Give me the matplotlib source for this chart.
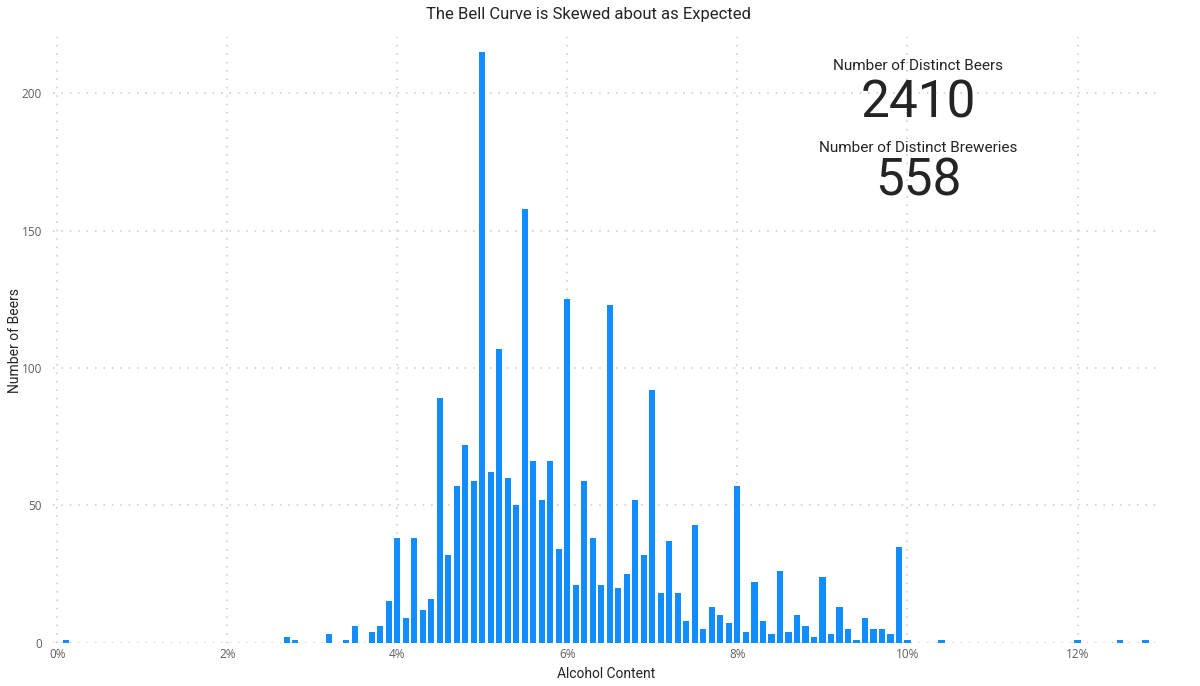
import matplotlib
matplotlib.use("Agg")
import matplotlib.pyplot as plt

# alcohol content (%) of each bar and number of beers at that value
abv = [0.1, 2.7, 2.8, 3.2, 3.4, 3.5, 3.7, 3.8, 3.9,
       4.0, 4.1, 4.2, 4.3, 4.4, 4.5, 4.6, 4.7, 4.8, 4.9,
       5.0, 5.1, 5.2, 5.3, 5.4, 5.5, 5.6, 5.7, 5.8, 5.9,
       6.0, 6.1, 6.2, 6.3, 6.4, 6.5, 6.6, 6.7, 6.8, 6.9,
       7.0, 7.1, 7.2, 7.3, 7.4, 7.5, 7.6, 7.7, 7.8, 7.9,
       8.0, 8.1, 8.2, 8.3, 8.4, 8.5, 8.6, 8.7, 8.8, 8.9,
       9.0, 9.1, 9.2, 9.3, 9.4, 9.5, 9.6, 9.7, 9.8, 9.9,
       10.0, 10.4, 12.0, 12.5, 12.8]
beers = [1, 2, 1, 3, 1, 6, 4, 6, 15,
         38, 9, 38, 12, 16, 89, 32, 57, 72, 59,
         215, 62, 107, 60, 50, 158, 66, 52, 66, 34,
         125, 21, 59, 38, 21, 123, 20, 25, 52, 32,
         92, 18, 37, 18, 8, 43, 5, 13, 10, 7,
         57, 4, 22, 8, 3, 26, 4, 10, 6, 2,
         24, 3, 13, 5, 1, 9, 5, 5, 3, 35,
         1, 1, 1, 1, 1]

x_ticks = [0, 2, 4, 6, 8, 10, 12]
x_ticklabels = ["0%", "2%", "4%", "6%", "8%", "10%", "12%"]
y_ticks = [0, 50, 100, 150, 200]

n_beers = 2410
n_breweries = 558

BLUE = "#118DFF"
DARK = "#252423"
GREY = "#605E5C"

plt.rcParams["font.family"] = ["Roboto", "DejaVu Sans"]

fig = plt.figure(figsize=(12, 6.86), dpi=100)
ax = fig.add_axes([53 / 1200, (686 - 642.7) / 686, (1160 - 53) / 1200, (642.7 - 37) / 686])

ax.bar(abv, beers, width=0.072, color=BLUE, zorder=3)
ax.set_xlim(-0.05, 12.97)
ax.set_ylim(0, 220.5)

ax.set_xticks(x_ticks)
ax.set_xticklabels(x_ticklabels)
ax.set_yticks(y_ticks)
ax.tick_params(length=0, colors=GREY, labelsize=8.5)
ax.tick_params(axis="x", pad=4)
ax.tick_params(axis="y", pad=8)
for lab in ax.get_xticklabels() + ax.get_yticklabels():
    lab.set_family(["Open Sans", "DejaVu Sans"])

ax.grid(True, color="#C8C8C8", linestyle=(0, (1, 4.5)), linewidth=1.1, zorder=0)
for s in ax.spines.values():
    s.set_visible(False)

ax.set_xlabel("Alcohol Content", color=DARK, fontsize=10, labelpad=4)
fig.text(15 / 1200, 1 - 340 / 686, "Number of Beers", rotation=90,
         ha="center", va="center", color=DARK, fontsize=10)

fig.text(588 / 1200, 1 - 15 / 686, "The Bell Curve is Skewed about as Expected",
         ha="center", va="center", color=DARK, fontsize=12)

# summary cards
fig.text(918 / 1200, 1 - 66 / 686, "Number of Distinct Beers",
         ha="center", va="center", color=DARK, fontsize=11)
fig.text(918 / 1200, 1 - 104 / 686, f"{n_beers}",
         ha="center", va="center", color=DARK, fontsize=37)
fig.text(918 / 1200, 1 - 148 / 686, "Number of Distinct Breweries",
         ha="center", va="center", color=DARK, fontsize=11)
fig.text(918 / 1200, 1 - 181 / 686, f"{n_breweries}",
         ha="center", va="center", color=DARK, fontsize=37)

fig.savefig("out.png", dpi=100, facecolor="white")
plt.close(fig)
